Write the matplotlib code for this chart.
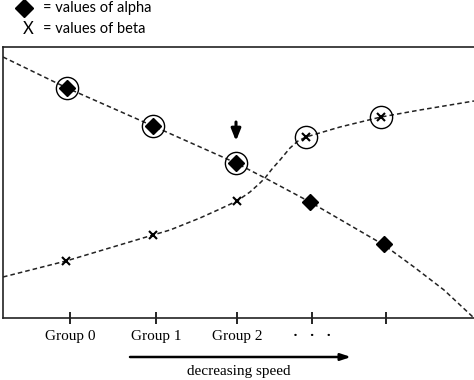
import matplotlib.pyplot as plt

# values (x in px, y = height above the x axis)
group_labels = ["Group 0", "Group 1", "Group 2", "·   ·   ·", ""]
group_pos = [70, 156, 237, 312, 386]

alpha_x = [67, 153, 236, 310, 384]
alpha_y = [230, 192, 155, 116, 74]
alpha_circled = [True, True, True, False, False]

beta_x = [66, 153, 237, 306, 381]
beta_y = [57, 83, 117, 181, 201]
beta_circled = [False, False, False, True, True]

alpha_curve_x = [3, 67, 153, 236, 265, 310, 384, 414, 444, 474]
alpha_curve_y = [261, 230, 192, 155, 140, 116, 73, 51, 28, 0]

beta_curve_x = [3, 66, 153, 170, 200, 220, 237, 250, 260, 265, 272, 280, 290, 298, 306, 340, 381, 420, 474]
beta_curve_y = [41, 57, 83, 88, 100, 109, 117, 126, 135, 140, 149, 158, 170, 177, 181, 191, 201, 208, 217]

fig = plt.figure(figsize=(4.74, 3.8), dpi=100)
ax = fig.add_axes([3/474, 62/380, 471/474, 271/380])

dash = (0, (3, 2))
ax.plot(alpha_curve_x, alpha_curve_y, color='#222222', lw=1.1, ls=dash)
ax.plot(beta_curve_x, beta_curve_y, color='#222222', lw=1.1, ls=dash)

ax.plot(alpha_x, alpha_y, ls='none', marker='D', ms=8, color='black')
ax.plot(beta_x, beta_y, ls='none', marker='x', ms=6, mew=1.5, color='black')

#circles
cx = [x for x, c in zip(alpha_x, alpha_circled) if c] + [x for x, c in zip(beta_x, beta_circled) if c]
cy = [y for y, c in zip(alpha_y, alpha_circled) if c] + [y for y, c in zip(beta_y, beta_circled) if c]
ax.plot(cx, cy, ls='none', marker='o', ms=16, mfc='none', mec='black', mew=1)

# arrow above group 2
ax.annotate('', xy=(alpha_x[2], 177), xytext=(alpha_x[2], 196),
            arrowprops=dict(arrowstyle='-|>,head_length=0.7,head_width=0.28', lw=2.2,
                            color='black', shrinkA=0, shrinkB=0))

ax.set_xlim(3, 474)
ax.set_ylim(0, 271)
ax.spines['right'].set_visible(False)
for s in ['top', 'left', 'bottom']:
    ax.spines[s].set_linewidth(1.2)
    ax.spines[s].set_color('#222222')
ax.set_yticks([])
ax.set_xticks(group_pos)
ax.set_xticklabels(group_labels, family='Liberation Serif', fontsize=11)
ax.get_xticklabels()[3].set_fontweight('bold')
ax.tick_params(axis='x', direction='inout', length=9, width=1.2, pad=4)

# legend + speed arrow in pixel coords
ov = fig.add_axes([0, 0, 1, 1], zorder=-1)
ov.set_xlim(0, 474)
ov.set_ylim(380, 0)
ov.axis('off')
ov.plot([24], [8], marker='D', ms=9, color='black')
ov.text(43, 8, '= values of alpha', family='Lato', fontsize=10.5, va='center')
ov.text(28, 29, 'X', family='Lato', fontsize=12, va='center', ha='center')
ov.text(43, 29, '= values of beta', family='Lato', fontsize=10.5, va='center')

ov.annotate('', xy=(351, 357), xytext=(130, 357),
            arrowprops=dict(arrowstyle='-|>,head_length=0.6,head_width=0.2', lw=1.8,
                            color='black', shrinkA=0, shrinkB=0))
ov.text(239, 371, 'decreasing speed', family='Liberation Serif', fontsize=11, ha='center', va='center')

fig.savefig('out.png', dpi=100)
